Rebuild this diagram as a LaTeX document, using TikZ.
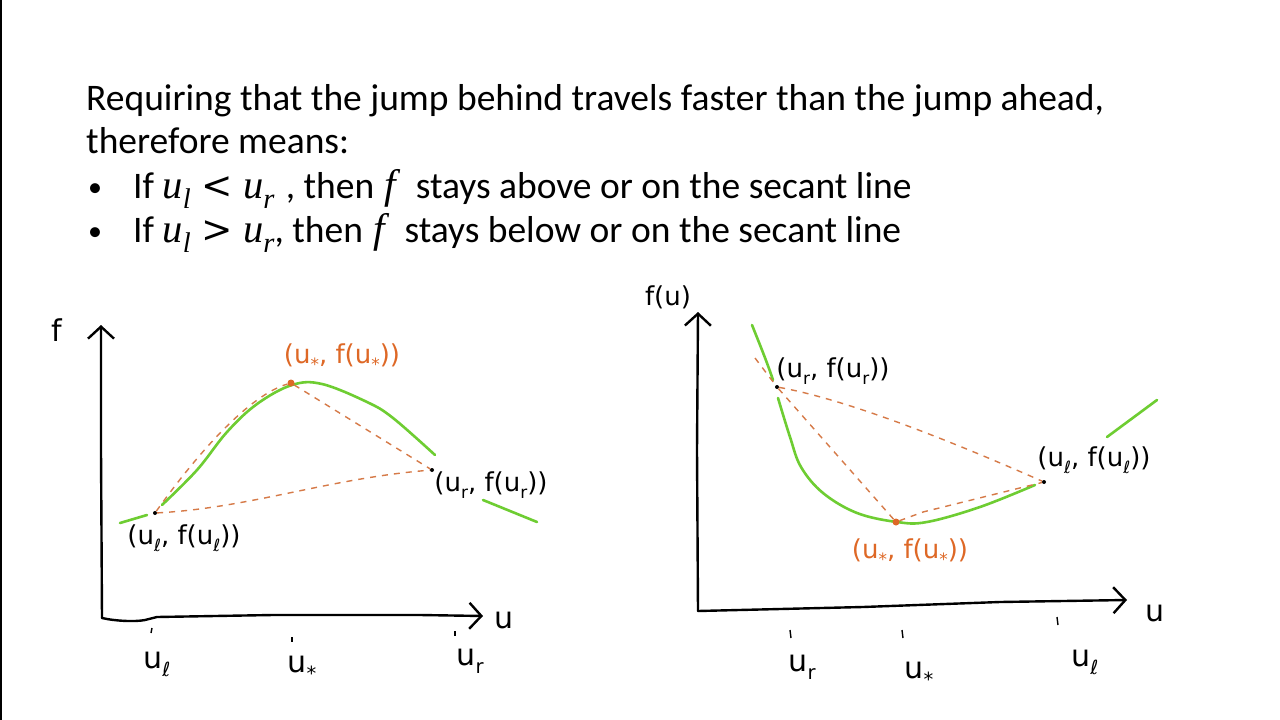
\documentclass[tikz,border=0pt]{standalone}
\usepackage{fontspec}
\setmainfont{Carlito}
\newfontfamily\mfont{Liberation Serif}
\newfontfamily\rfont{DejaVu Serif}
\newfontfamily\hfont{DejaVu Sans}
\usetikzlibrary{arrows.meta}
\definecolor{hgreen}{RGB}{110,205,50}
\definecolor{horange}{RGB}{222,104,38}
\definecolor{hdash}{RGB}{214,122,72}
\newcommand\mi[1]{{\mfont\itshape #1}}
\newcommand\msb[1]{\raisebox{-0.27em}{\scalebox{0.76}{\mi{#1}}}}
\newcommand\mrel[1]{\hspace{0.28em}{\rfont #1}\hspace{0.28em}}
\newcommand\hsb[1]{\raisebox{-0.28em}{\scalebox{0.65}{#1}}}
\begin{document}
\begin{tikzpicture}[x=1pt,y=-1pt,
  axis/.style={line width=2.4pt, line cap=round, line join=round},
  axarrow/.style={-{Straight Barb[length=12pt,width=26pt,line width=2.4pt]}},
  curve/.style={hgreen, line width=2.6pt, line cap=round},
  sec/.style={hdash, line width=1.4pt, dash pattern=on 6pt off 6pt},
  hand/.style={font=\hfont\fontsize{26}{30}\selectfont, inner sep=0},
  ticklab/.style={font=\hfont\fontsize{30}{34}\selectfont, inner sep=0},
  tickmark/.style={line width=1.4pt},
  body/.style={font=\fontsize{37.5}{44}\selectfont, anchor=base west, inner sep=0},
  bullet/.style={font=\fontsize{28}{30}\selectfont, anchor=base west, inner sep=0},
  dot/.style={circle, fill=black, inner sep=0, minimum size=4pt},
  odot/.style={circle, fill=horange, inner sep=0, minimum size=7pt}]
\useasboundingbox (0,0) rectangle (1280,720);
\fill[white] (0,0) rectangle (1280,720);
\fill[black] (0,0) rectangle (2,720);

% text
\node[body] (l1) at (86,110) {Requiring that the jump behind travels faster than the jump ahead,};
\node[body] (l2) at (86,153) {therefore means:};
\node[bullet] (b1) at (88,196) {\textbullet};
\node[body] (t1) at (133,198) {If \mi{\scalebox{1.08}{u}}\msb{l}\mrel{<}\mi{\scalebox{1.08}{u}}\msb{r}\hspace{0.3em}, then\hspace{0.05em} \mi{\scalebox{1.1}{f}}\hspace{0.3em} stays above or on the secant line};
\node[bullet] (b2) at (88,240) {\textbullet};
\node[body] (t2) at (133,242) {If \mi{\scalebox{1.08}{u}}\msb{l}\mrel{>}\mi{\scalebox{1.08}{u}}\msb{r}, then\hspace{0.05em} \mi{\scalebox{1.1}{f}}\hspace{0.3em} stays below or on the secant line};

% ---------------- left graph ----------------
\coordinate (Ly) at (101,325);
\coordinate (Lo) at (102,618);
\coordinate (Lx) at (483,616);
\draw[axis,axarrow] (Lo) -- (101,450) -- (Ly);
\draw[axis,axarrow] (Lo) .. controls (115,621) and (135,622) .. (145,620) -- (157,617) -- (273,615) -- (420,615) -- (Lx);
\node[hand, font=\hfont\fontsize{30}{34}\selectfont] (Lf) at (57,330) {f};
\node[ticklab] (Lu) at (504,620) {u};

\draw[curve] (120,523) -- (147,515);
\draw[curve] plot[smooth, tension=0.6] coordinates {(162,505) (197,470) (227,432) (257,404) (292,385) (322,384) (367,402) (393,418) (435,455)};
\draw[curve] (483,500) -- (537,522);

\node[dot] (Lul) at (155,513) {};
\node[dot] (Lur) at (432,470) {};
\node[odot] (Lus) at (291,383) {};

\draw[sec] (Lul) .. controls (200,450) and (250,395) .. (Lus);
\draw[sec] (Lus) -- (Lur);
\draw[sec] (Lul) .. controls (250,508) and (330,478) .. (Lur);

\node[hand] (Lull) at (184,538) {(u\hsb{ℓ}, f(u\hsb{ℓ}))};
\node[hand, text=horange] (Lusl) at (342,357) {(u\hsb{*}, f(u\hsb{*}))};
\node[hand] (Lurl) at (491,485) {(u\hsb{r}, f(u\hsb{r}))};

\draw[tickmark] (152,628) -- (151,633);
\draw[tickmark] (292,637) -- (292,642);
\draw[tickmark] (455,631) -- (455,636);
\node[ticklab] (Ltl) at (157,664) {u\hsb{ℓ}};
\node[ticklab] (Lts) at (302,668) {u\hsb{*}};
\node[ticklab] (Ltr) at (470,661) {u\hsb{r}};

% ---------------- right graph ----------------
\coordinate (Ry) at (698,312);
\coordinate (Ro) at (698,611);
\coordinate (Rx) at (1127,600);
\draw[axis,axarrow] (Ro) -- (697,450) -- (Ry);
\draw[axis,axarrow] (Ro) -- (863,607) -- (1000,602) -- (Rx);
\node[hand, font=\hfont\fontsize{26}{30}\selectfont] (Rf) at (668,297) {f(u)};
\node[ticklab] (Ru) at (1155,613) {u};

\draw[curve] (752,325) .. controls (760,345) and (767,362) .. (773,380);
\draw[curve] plot[smooth, tension=0.6] coordinates {(778,398) (790,437) (801,467) (823,493) (857,513) (897,522) (927,522) (980,507) (1035,485)};
\draw[curve] (1107,437) -- (1157,400);

\node[dot] (Rur) at (777,387) {};
\node[dot] (Rul) at (1044,482) {};
\node[odot] (Rus) at (896,522) {};

\coordinate (Rst) at (755,358);
\draw[sec] (Rst) -- (Rur);
\draw[sec] (Rur) -- (Rus);
\draw[sec] (Rur) .. controls (850,400) and (960,445) .. (Rul);
\draw[sec] (Rus) -- (923,512) -- (Rul);

\node[hand] (Rurl) at (833,371) {(u\hsb{r}, f(u\hsb{r}))};
\node[hand] (Rull) at (1094,460) {(u\hsb{ℓ}, f(u\hsb{ℓ}))};
\node[hand, text=horange] (Rusl) at (910,552) {(u\hsb{*}, f(u\hsb{*}))};

\draw[tickmark] (790,630) -- (791,638);
\draw[tickmark] (902,630) -- (903,638);
\draw[tickmark] (1057,617) -- (1058,625);
\node[ticklab] (Rtr) at (802,667) {u\hsb{r}};
\node[ticklab] (Rts) at (919,674) {u\hsb{*}};
\node[ticklab] (Rtl) at (1085,662) {u\hsb{ℓ}};
\end{tikzpicture}
\end{document}
